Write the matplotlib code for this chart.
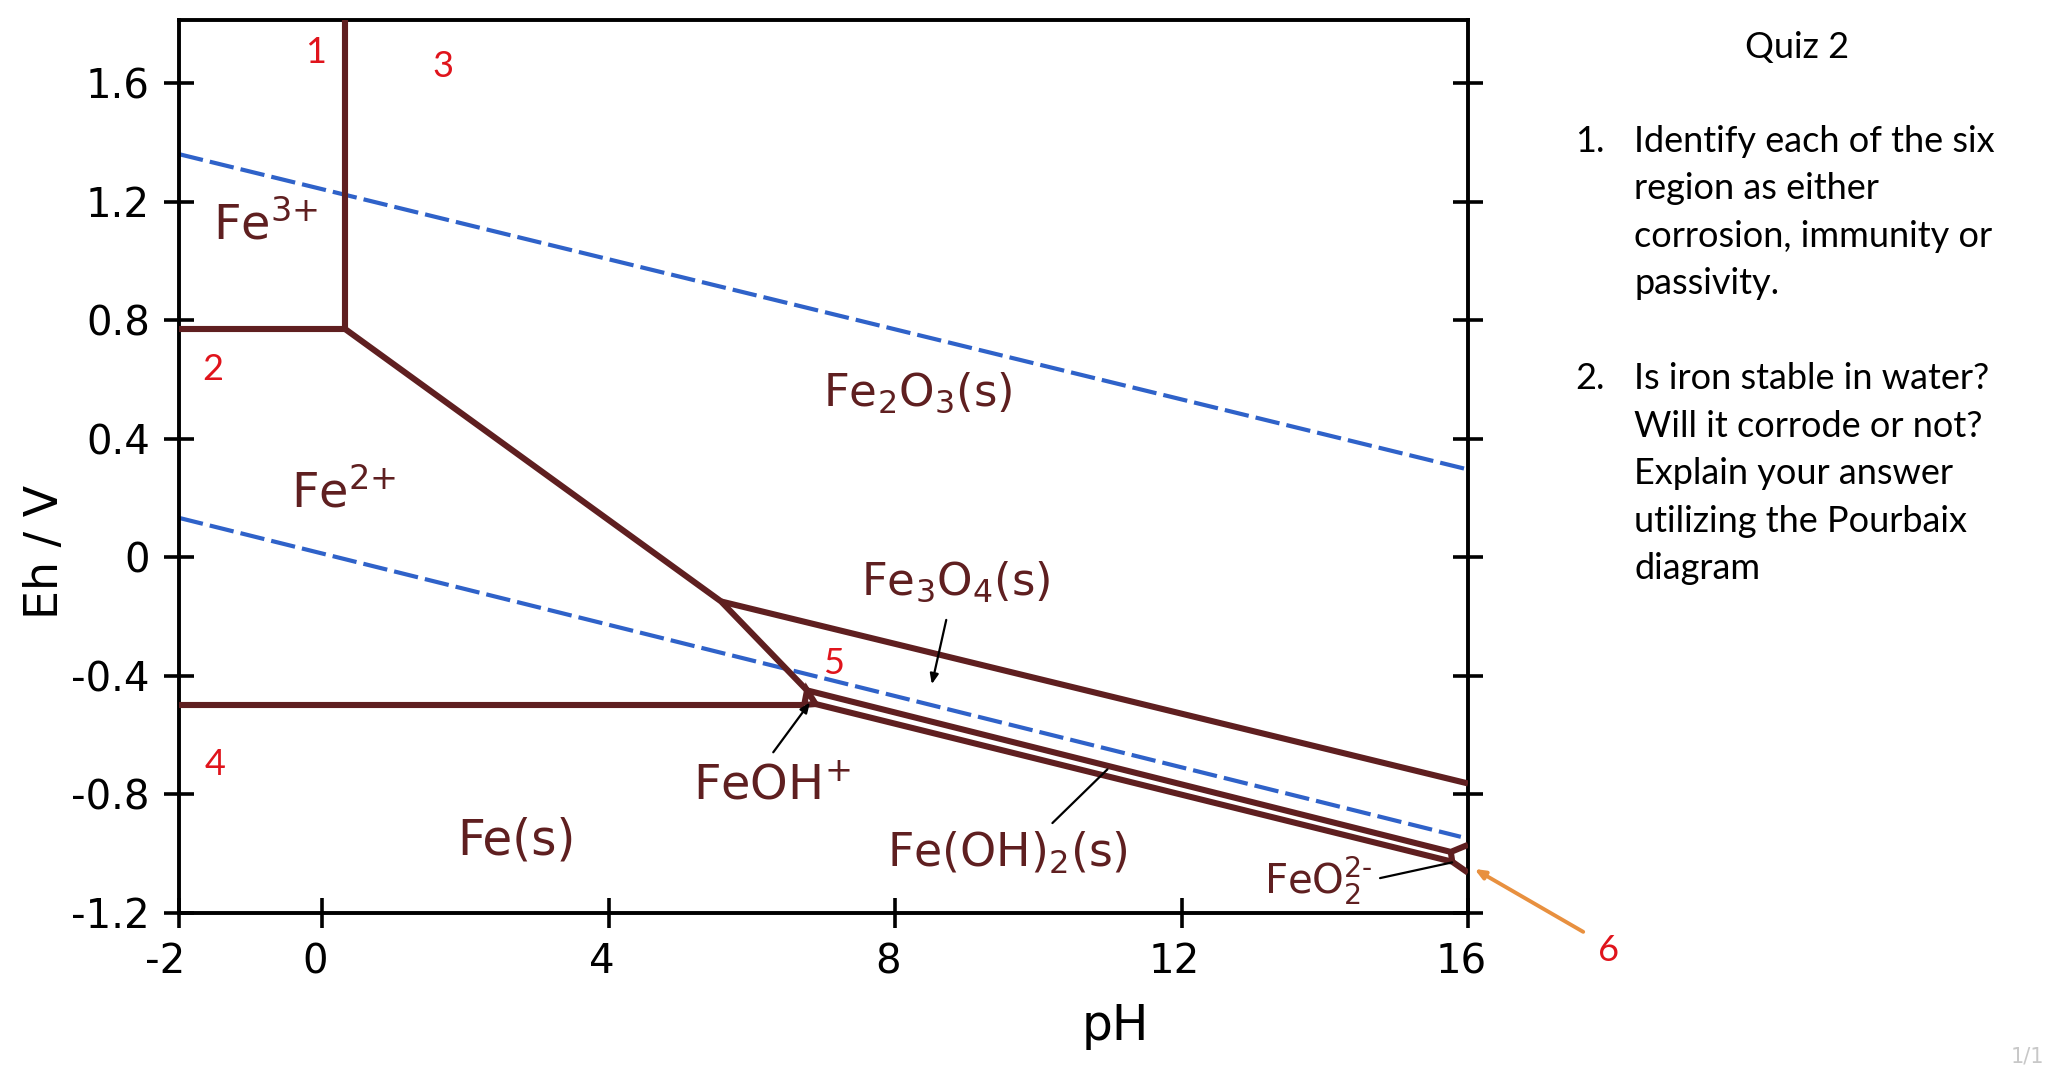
import matplotlib
matplotlib.use("Agg")
import matplotlib.pyplot as plt
from matplotlib.transforms import ScaledTranslation

W, H = 2055, 1067
plt.rcParams['mathtext.fontset'] = 'dejavusans'
plt.rcParams['mathtext.default'] = 'regular'

# boundaries (pH, Eh)
bnd_fe3_v_ph = [0.32, 0.32]; bnd_fe3_v_eh = [1.816, 0.77]
bnd_fe3_h_ph = [-2, 0.32]; bnd_fe3_h_eh = [0.77, 0.77]
bnd_fe2_ph = [0.32, 5.57, 6.77]; bnd_fe2_eh = [0.77, -0.149, -0.449]
bnd_mag_ph = [5.57, 16]; bnd_mag_eh = [-0.149, -0.763]
bnd_fe_h_ph = [-2, 6.73]; bnd_fe_h_eh = [-0.498, -0.498]
bnd_feoh_ph = [6.73, 6.77, 6.89, 6.73]; bnd_feoh_eh = [-0.498, -0.449, -0.495, -0.498]
bnd_up_ph = [6.77, 15.76, 16]; bnd_up_eh = [-0.449, -0.994, -0.97]
bnd_low_ph = [6.89, 15.78, 16]; bnd_low_eh = [-0.495, -1.027, -1.064]
bnd_feo2_ph = [15.76, 15.78]; bnd_feo2_eh = [-0.994, -1.027]
water_up_ph = [-2, 15.97]; water_up_eh = [1.36, 0.298]
water_lo_ph = [-2, 15.9]; water_lo_eh = [0.133, -0.943]

xticks = [-2, 0, 4, 8, 12, 16]
xlabels = ['-2', '0', '4', '8', '12', '16']
yticks = [-1.2, -0.8, -0.4, 0, 0.4, 0.8, 1.2, 1.6]
ylabels = ['-1.2', '-0.8', '-0.4', '0', '0.4', '0.8', '1.2', '1.6']

BROWN = '#5f1f20'; BLUE = '#2f62c9'; RED = '#e0141c'; ORANGE = '#e8903f'

fig = plt.figure(figsize=(W/100, H/100), dpi=100, facecolor='white')
L, R, T, B = 179, 1468, 20, 913
ax = fig.add_axes([L/W, 1-B/H, (R-L)/W, (B-T)/H])
ax.set_xlim(-2, 16); ax.set_ylim(-1.2, 1.8126)
for s in ax.spines.values():
    s.set_linewidth(2.8)
ax.set_xticks(xticks, xlabels, fontsize=29)
ax.set_yticks(yticks, ylabels, fontsize=29)
ax.tick_params(direction='inout', length=22, width=2.6, right=True, top=False, pad=10)
ax.tick_params(axis='x', pad=10)
shift = ScaledTranslation(-5/72, 0, fig.dpi_scale_trans)
shift_first = ScaledTranslation(-10/72, 0, fig.dpi_scale_trans)
for i, lab in enumerate(ax.get_xticklabels()):
    lab.set_transform(lab.get_transform() + (shift_first if i == 0 else shift))

for p, e in [(bnd_fe3_v_ph, bnd_fe3_v_eh), (bnd_fe3_h_ph, bnd_fe3_h_eh), (bnd_fe2_ph, bnd_fe2_eh),
             (bnd_mag_ph, bnd_mag_eh), (bnd_fe_h_ph, bnd_fe_h_eh), (bnd_feoh_ph, bnd_feoh_eh),
             (bnd_up_ph, bnd_up_eh), (bnd_low_ph, bnd_low_eh), (bnd_feo2_ph, bnd_feo2_eh)]:
    ax.plot(p, e, color=BROWN, lw=4.4, solid_joinstyle='miter', solid_capstyle='butt', zorder=3)
for p, e in [(water_up_ph, water_up_eh), (water_lo_ph, water_lo_eh)]:
    ax.plot(p, e, color=BLUE, lw=3.0, dashes=(5.9, 1.7), dash_capstyle='butt', zorder=2)

def fx(x): return x*1.3106/W
def fy(y): return 1-y*1.3106/H

fig.text(fx(851), fy(783), 'pH', fontsize=35, ha='center', va='center')
fig.text(fx(35), fy(421), 'Eh / V', fontsize=33, ha='center', va='center', rotation=90)

labels = [('Fe$^{3{+}}$', 203, 172, 34.5), ('Fe$^{2{+}}$', 262, 377, 34.5), ('Fe$_2$O$_3$(s)', 700, 300, 32.5),
          ('Fe$_3$O$_4$(s)', 729, 444, 32.5), ('FeOH$^{+}$', 589, 600, 34.5), ('Fe(s)', 394, 641, 35),
          ('Fe(OH)$_2$(s)', 769, 651, 33), (r'FeO$_2^{2\text{-}}$', 1006, 672, 29)]
for t, x, y, fs in labels:
    fig.text(fx(x), fy(y), t, color=BROWN, fontsize=fs, ha='center', va='center', zorder=5)

nums = [('1', 241, 40), ('2', 162, 282), ('3', 338, 51), ('4', 164, 583), ('5', 636, 506), ('6', 1227, 725)]
for t, x, y in nums:
    fig.text(fx(x), fy(y), t, color=RED, fontsize=26, family='Lato', ha='center', va='center', zorder=5)

arrows = [((722, 473), (711, 522), 'black', '-|>'), ((590, 574), (618, 536), 'black', '-|>'),
          ((803, 628), (845, 587), 'black', '-'), ((1053, 670), (1108, 658), 'black', '-'),
          ((1208, 711), (1125, 663), ORANGE, '-|>')]
for a, b, c, st in arrows:
    ax.annotate('', xy=(fx(b[0]), fy(b[1])), xytext=(fx(a[0]), fy(a[1])),
                xycoords='figure fraction', textcoords='figure fraction', annotation_clip=False,
                arrowprops=dict(arrowstyle=st + (',head_length=0.6,head_width=0.25' if st != '-' else ''),
                                color=c, lw=2.8 if c == ORANGE else 1.6, shrinkA=0, shrinkB=0))

FS = 26
fig.text(fx(1371), fy(36), 'Quiz 2', fontsize=FS, family='Lato', ha='center', va='center')
items = [('1.', 1202, 108), ('2.', 1202, 289)]
for t, x, y in items:
    fig.text(fx(x), fy(y), t, fontsize=FS, family='Lato', ha='left', va='center')
lines = ['Identify each of the six', 'region as either', 'corrosion, immunity or', 'passivity.']
lines2 = ['Is iron stable in water?', 'Will it corrode or not?', 'Explain your answer', 'utilizing the Pourbaix', 'diagram']
for i, t in enumerate(lines):
    fig.text(fx(1247), fy(108 + i*36.2), t, fontsize=FS, family='Lato', ha='left', va='center')
for i, t in enumerate(lines2):
    fig.text(fx(1247), fy(289 + i*36.2), t, fontsize=FS, family='Lato', ha='left', va='center')
fig.text(fx(1547), fy(806), '1/1', fontsize=15, color='#c8c8c8', ha='center', va='center')

fig.savefig('out.png', dpi=100)
